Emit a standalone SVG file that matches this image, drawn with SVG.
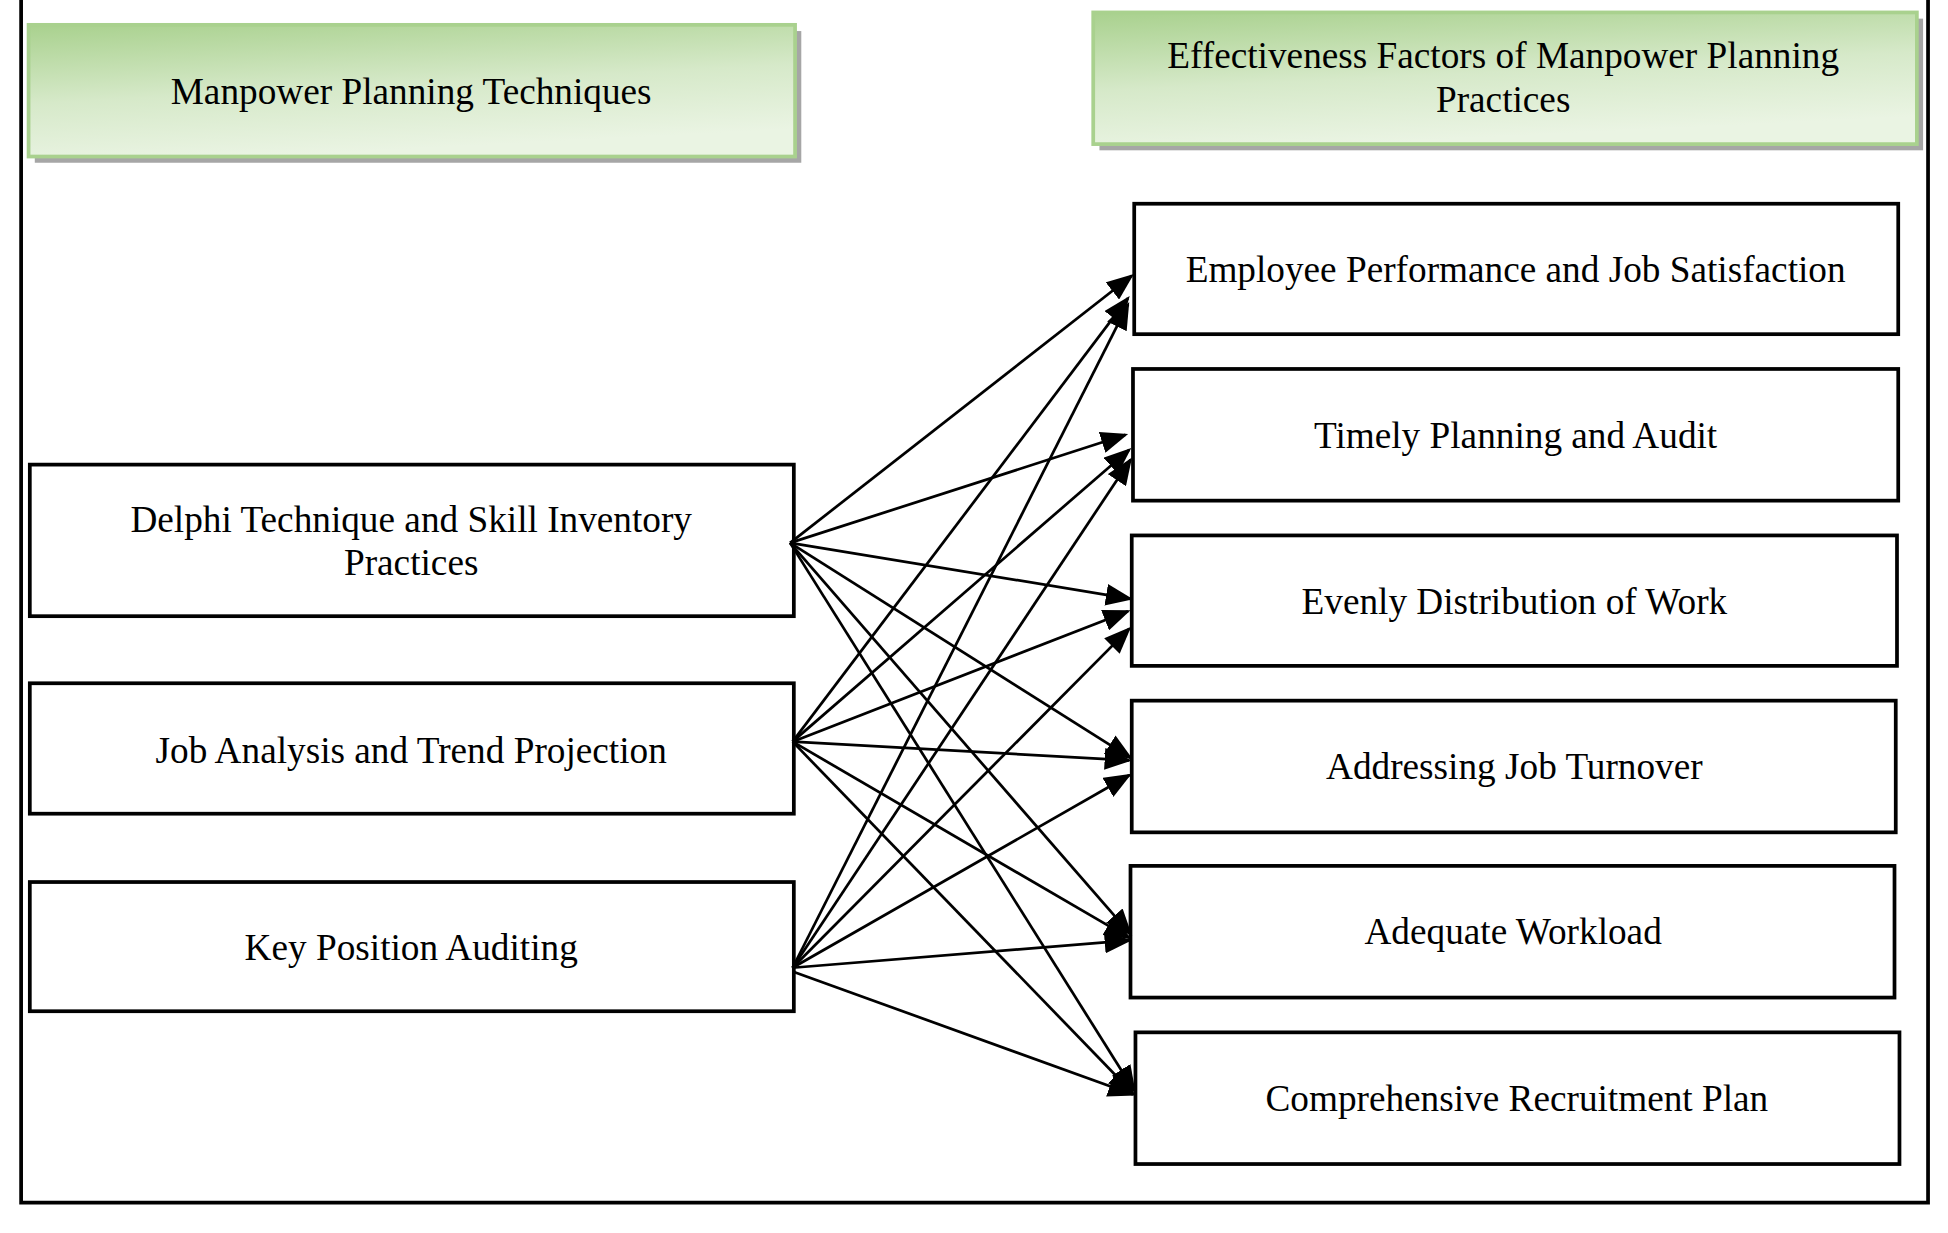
<svg xmlns="http://www.w3.org/2000/svg" width="1948" height="1233" viewBox="0 0 1948 1233">
<style>
.box{fill:#fff;stroke:#000;stroke-width:3}
.hdr{fill:url(#g);stroke:#a9d18e;stroke-width:3}
.sh{fill:#a6a6a6}
text{font-family:"Liberation Serif",serif;font-size:30px;fill:#000;text-anchor:middle}
.c line{stroke:#000;stroke-width:2.2;marker-end:url(#a)}
</style>
<defs>
<linearGradient id="g" x1="0" y1="0" x2="0.3" y2="1"><stop offset="0" stop-color="#a9d18e"/><stop offset="0.55" stop-color="#d6e9c9"/><stop offset="1" stop-color="#eaf4e3"/></linearGradient>
<marker id="a" markerWidth="10" markerHeight="8" refX="9" refY="4" orient="auto" markerUnits="strokeWidth"><path d="M0,0 L10,4 L0,8 z" fill="#000"/></marker>
</defs>
<rect width="1948" height="1233" fill="#fff"/>
<g transform="scale(1.2423)">
<path d="M17,0 V968 H1552 V0" fill="none" stroke="#000" stroke-width="3"/>
<g id="h1"><rect class="sh" x="28" y="25" width="617" height="106"/><rect class="hdr" x="23" y="20" width="617" height="106"/><text x="331" y="84">Manpower Planning Techniques</text></g>
<g id="h2"><rect class="sh" x="885" y="15" width="663" height="106"/><rect class="hdr" x="880" y="10" width="663" height="106"/><text x="1210" y="55">Effectiveness Factors of Manpower Planning</text><text x="1210" y="90">Practices</text></g>
<g id="l1"><rect class="box" x="24" y="374" width="615" height="122"/><text x="331" y="428">Delphi Technique and Skill Inventory</text><text x="331" y="463">Practices</text></g>
<g id="l2"><rect class="box" x="24" y="550" width="615" height="105"/><text x="331" y="614">Job Analysis and Trend Projection</text></g>
<g id="l3"><rect class="box" x="24" y="710" width="615" height="104"/><text x="331" y="773">Key Position Auditing</text></g>
<g id="r1"><rect class="box" x="913" y="164" width="615" height="105"/><text x="1220" y="227">Employee Performance and Job Satisfaction</text></g>
<g id="r2"><rect class="box" x="912" y="297" width="616" height="106"/><text x="1220" y="361">Timely Planning and Audit</text></g>
<g id="r3"><rect class="box" x="911" y="431" width="616" height="105"/><text x="1219" y="494">Evenly Distribution of Work</text></g>
<g id="r4"><rect class="box" x="911" y="564" width="615" height="106"/><text x="1219" y="627">Addressing Job Turnover</text></g>
<g id="r5"><rect class="box" x="910" y="697" width="615" height="106"/><text x="1218" y="760">Adequate Workload</text></g>
<g id="r6"><rect class="box" x="914" y="831" width="615" height="106"/><text x="1221" y="894">Comprehensive Recruitment Plan</text></g>
<g class="c" id="connectors">
<line x1="636" y1="437" x2="911" y2="222"/>
<line x1="636" y1="437" x2="906" y2="350"/>
<line x1="636" y1="437" x2="910" y2="482"/>
<line x1="636" y1="437" x2="910" y2="610"/>
<line x1="636" y1="437" x2="910" y2="752"/>
<line x1="636" y1="437" x2="913" y2="878"/>
<line x1="638" y1="597" x2="908" y2="240"/>
<line x1="638" y1="597" x2="909" y2="362"/>
<line x1="638" y1="597" x2="908" y2="492"/>
<line x1="638" y1="597" x2="909" y2="612"/>
<line x1="638" y1="597" x2="909" y2="755"/>
<line x1="638" y1="597" x2="912" y2="880"/>
<line x1="638" y1="779" x2="908" y2="245"/>
<line x1="638" y1="779" x2="910" y2="370"/>
<line x1="638" y1="779" x2="909" y2="506"/>
<line x1="638" y1="779" x2="909" y2="624"/>
<line x1="638" y1="779" x2="909" y2="757"/>
<line x1="638" y1="782" x2="912" y2="881"/>
</g>
</g>
</svg>
